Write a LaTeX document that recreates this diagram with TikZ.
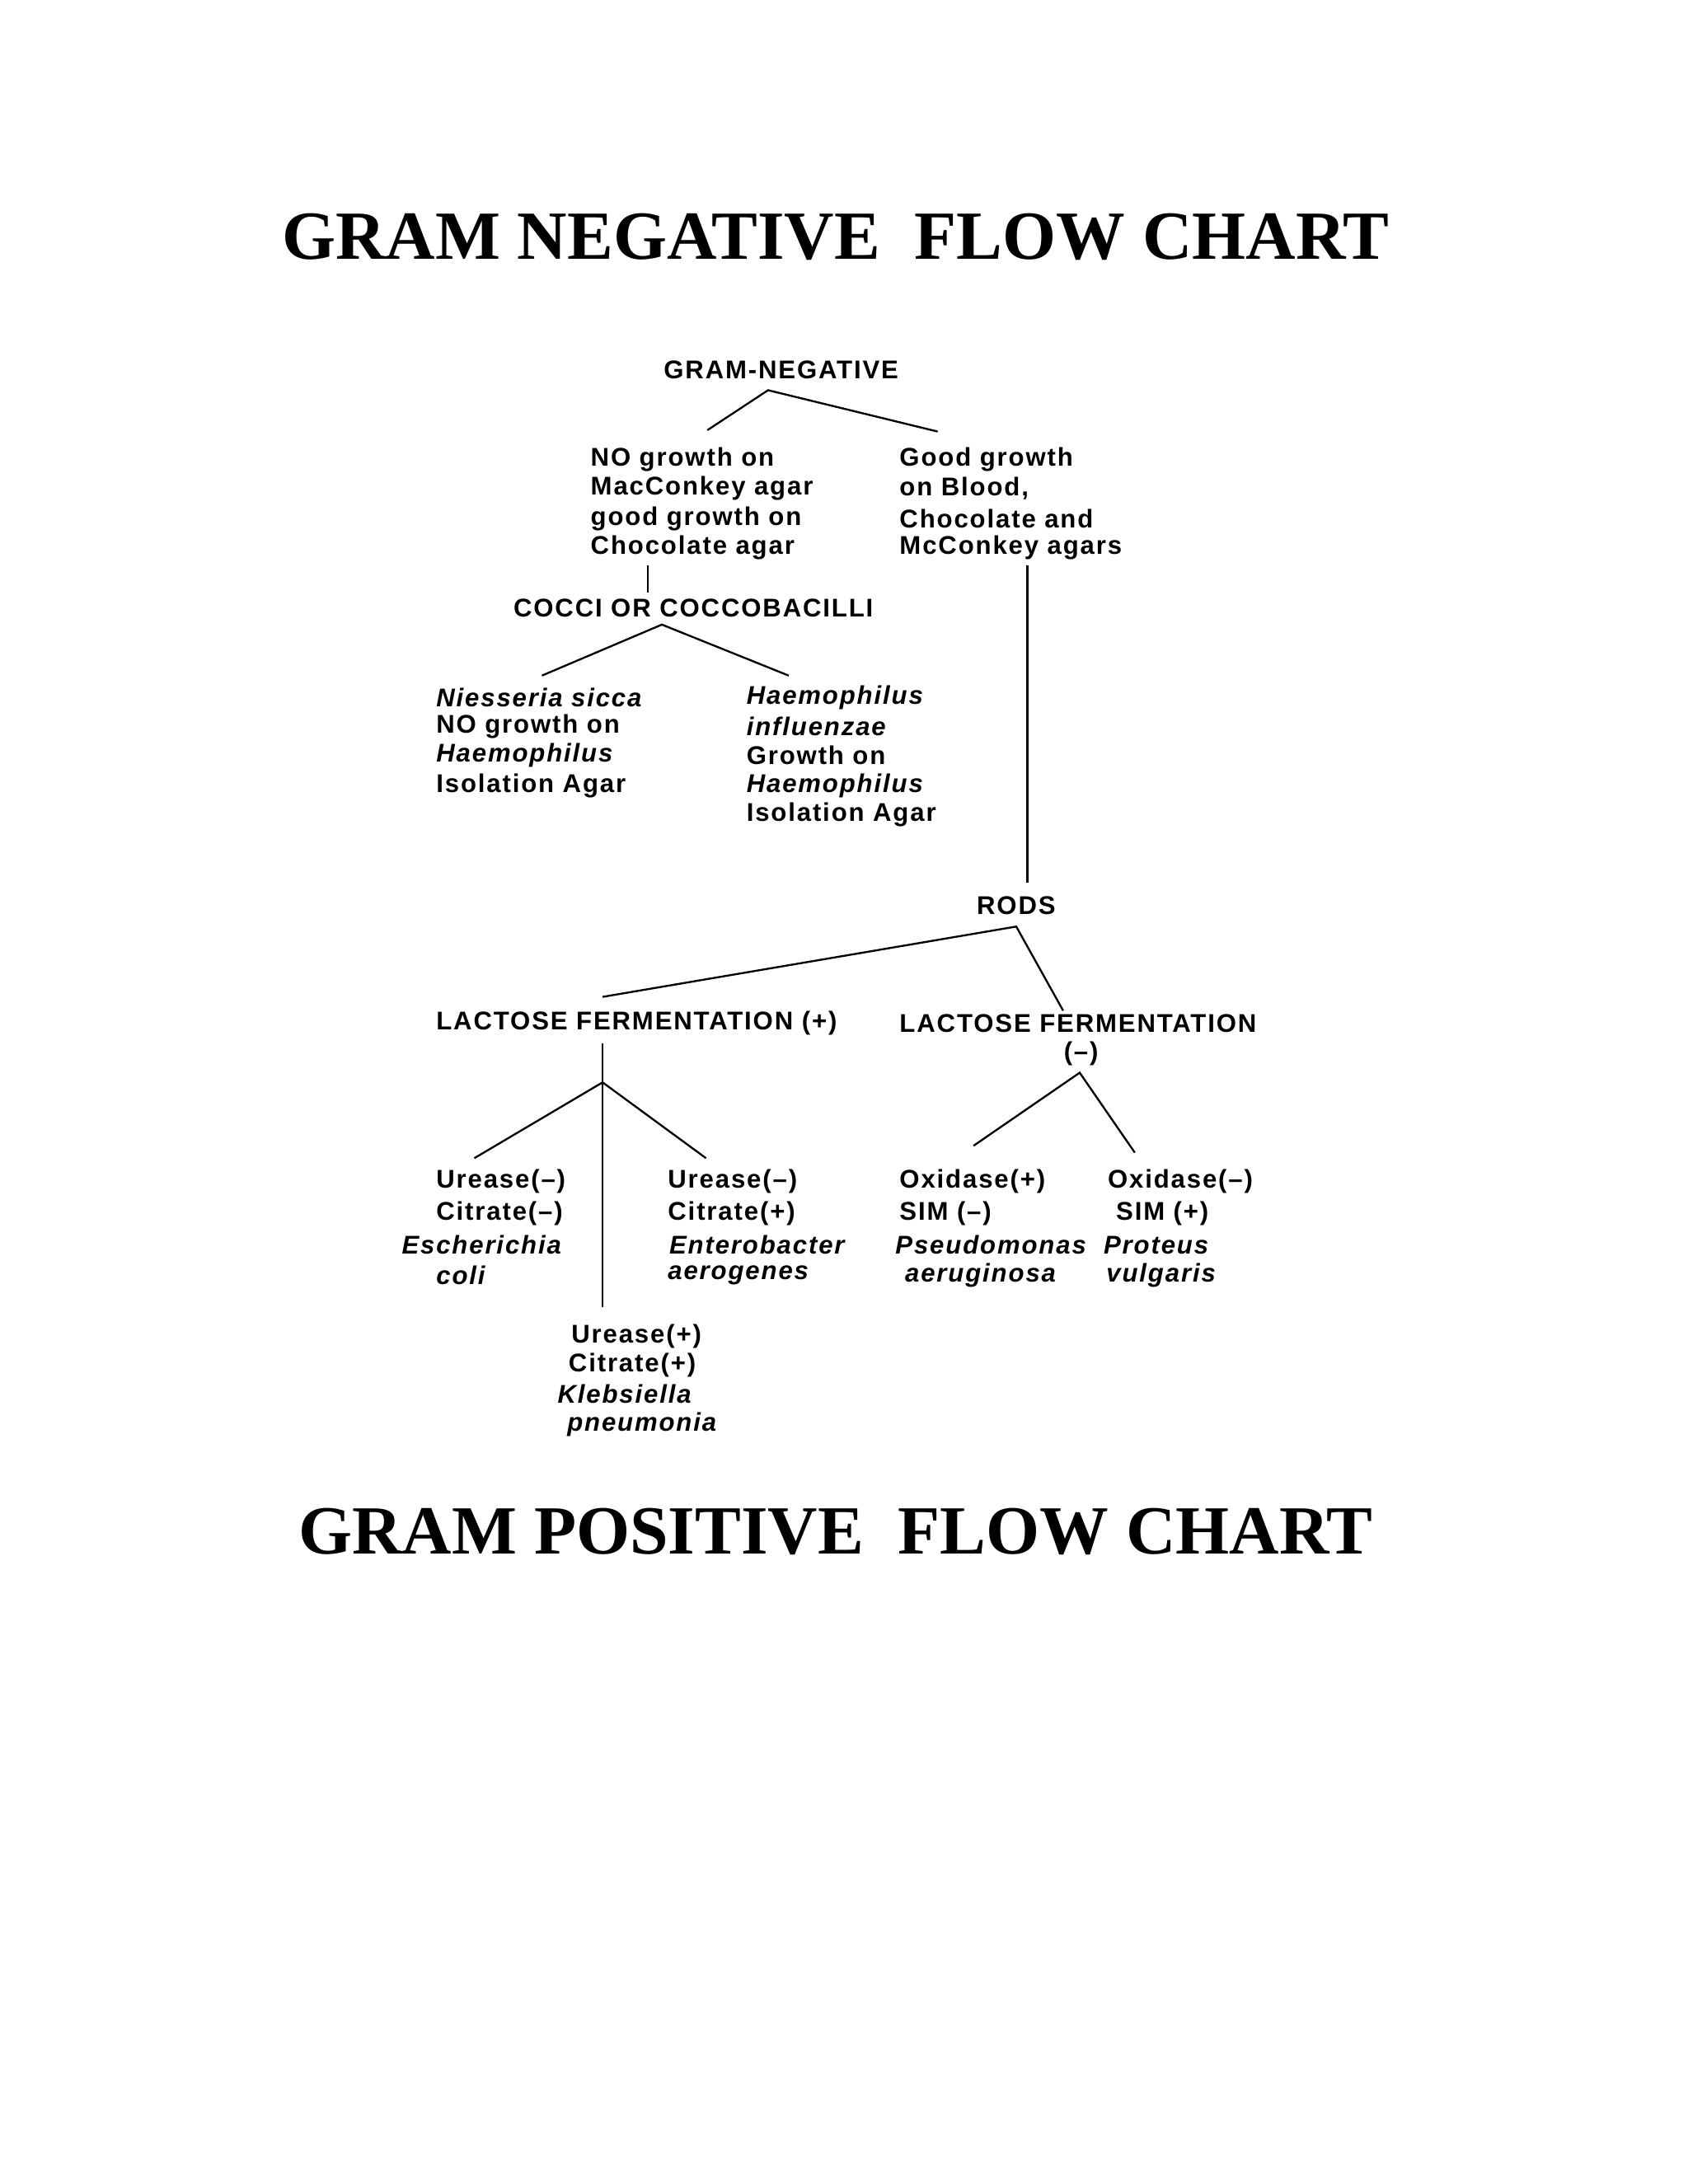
\documentclass[tikz,border=0pt]{standalone}
\usepackage{fontspec}
\setmainfont{Liberation Serif}
\setsansfont{Liberation Sans}[LetterSpace=6]
\begin{document}
\begin{tikzpicture}[x=0.5pt,y=-0.5pt,
  t/.style={anchor=west,inner sep=0pt,font=\sffamily\bfseries\fontsize{9.3}{11}\selectfont},
  ti/.style={t,font=\sffamily\bfseries\itshape\fontsize{9.3}{11}\selectfont},
  title/.style={inner sep=0pt,font=\rmfamily\bfseries\fontsize{25}{28}\selectfont},
  ln/.style={line width=0.7pt}]
\useasboundingbox (0,0) rectangle (1224,1584);
\node[title] (T1) at (606,172) {GRAM NEGATIVE\ \ FLOW CHART};
\node[title] (T2) at (606,1111) {GRAM POSITIVE\ \ FLOW CHART};
\node[t] (gn) at (481,268) {GRAM-NEGATIVE};
\node[t] (a1) at (428,333) {NO growth on};
\node[t] at (428,354) {MacConkey agar};
\node[t] at (428,376) {good growth on};
\node[t] (a4) at (428,397) {Chocolate agar};
\node[t] (b1) at (652,333) {Good growth};
\node[t] at (652,354) {on Blood,};
\node[t] at (652,376) {Chocolate and};
\node[t] (b4) at (652,397) {McConkey agars};
\node[t] (cc) at (372,441) {COCCI OR COCCOBACILLI};
\node[ti] at (316,506) {Niesseria sicca};
\node[t] at (316,527) {NO growth on};
\node[ti] at (316,548) {Haemophilus};
\node[t] at (316,570) {Isolation Agar};
\node[ti] at (541,506) {Haemophilus};
\node[ti] at (541,527) {influenzae};
\node[t] at (541,548) {Growth on};
\node[ti] at (541,570) {Haemophilus};
\node[t] at (541,591) {Isolation Agar};
\node[t] (rods) at (708,657) {RODS};
\node[t] (lp) at (316,742) {LACTOSE FERMENTATION (+)};
\node[t] (lm) at (652,742) {LACTOSE FERMENTATION};
\node[t,anchor=center] at (784,764) {(–)};
\node[t] at (316,857) {Urease(–)};
\node[t] at (316,880) {Citrate(–)};
\node[ti] at (291,903) {Escherichia};
\node[ti] at (316,925) {coli};
\node[t] at (484,857) {Urease(–)};
\node[t] at (484,880) {Citrate(+)};
\node[ti] at (485,903) {Enterobacter};
\node[ti] at (484,925) {aerogenes};
\node[t] at (652,857) {Oxidase(+)};
\node[t] at (652,880) {SIM (–)};
\node[ti] at (649,903) {Pseudomonas};
\node[ti] at (656,925) {aeruginosa};
\node[t] at (803,857) {Oxidase(–)};
\node[t] at (809,880) {SIM (+)};
\node[ti] at (800,903) {Proteus};
\node[ti] at (802,925) {vulgaris};
\node[t] at (414,969) {Urease(+)};
\node[t] at (412,990) {Citrate(+)};
\node[ti] at (404,1011) {Klebsiella};
\node[ti] at (411,1033) {pneumonia};
% junctions
\coordinate (j0) at (557,283);
\coordinate (j0l) at (513,312);
\coordinate (j0r) at (680,313);
\coordinate (j1a) at (470,410); \coordinate (j1b) at (470,430);
\coordinate (j2) at (480,453);
\coordinate (j2l) at (393,490); \coordinate (j2r) at (572,490);
\coordinate (v1) at (745,410); \coordinate (v2) at (745,640);
\coordinate (j3) at (737,672);
\coordinate (j3l) at (437,723); \coordinate (j3r) at (771,733);
\coordinate (v3) at (437,757); \coordinate (v4) at (437,948);
\coordinate (j4) at (437,785);
\coordinate (j4l) at (344,840); \coordinate (j4r) at (512,840);
\coordinate (j5) at (783,778);
\coordinate (j5l) at (706,831); \coordinate (j5r) at (823,836);
\draw[ln] (j0l) -- (j0) -- (j0r);
\draw[ln] (j1a) -- (j1b);
\draw[ln] (j2l) -- (j2) -- (j2r);
\draw[ln] (v1) -- (v2);
\draw[ln] (j3l) -- (j3) -- (j3r);
\draw[ln] (v3) -- (v4);
\draw[ln] (j4l) -- (j4) -- (j4r);
\draw[ln] (j5l) -- (j5) -- (j5r);
\end{tikzpicture}
\end{document}
